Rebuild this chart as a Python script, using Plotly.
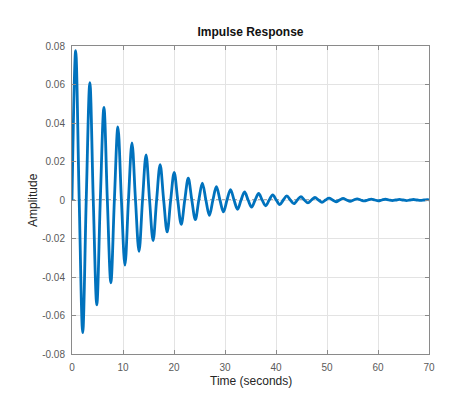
import plotly.graph_objects as go

# Values
peak_t = [0.72, 3.50, 6.26, 9.00, 11.76, 14.52, 17.28, 20.04, 22.80, 25.56, 28.32, 31.08, 33.84,
          36.60, 39.36, 42.12, 44.88, 47.64, 50.40, 53.16, 55.92, 58.68, 61.44, 64.20, 66.96, 69.72]
peak_amp = [0.0776, 0.0610, 0.0481, 0.0380, 0.0297, 0.0234, 0.0184, 0.0144, 0.0113, 0.0088, 0.0069,
            0.0054, 0.0042, 0.0034, 0.0027, 0.0021, 0.0017, 0.0013, 0.0010, 0.0008, 0.0006, 0.0005,
            0.0004, 0.0003, 0.00025, 0.0002]
trough_t = [2.10, 4.86, 7.62, 10.38, 13.14, 15.90, 18.66, 21.42, 24.18, 26.94, 29.70, 32.46, 35.22,
            37.98, 40.74, 43.50, 46.26, 49.02, 51.78, 54.54, 57.30, 60.06, 62.82, 65.58, 68.34]
trough_amp = [-0.0689, -0.0545, -0.0430, -0.0338, -0.0267, -0.0211, -0.0166, -0.0127, -0.0102, -0.0080,
              -0.0062, -0.0048, -0.0037, -0.0030, -0.0024, -0.0019, -0.0015, -0.0012, -0.0009, -0.0007,
              -0.0005, -0.0004, -0.0003, -0.0003, -0.0002]
cross_t = [0.0, 1.41, 2.79, 4.17, 5.55, 6.93, 8.31, 9.69, 11.07, 12.45, 13.83, 15.21, 16.59, 17.97,
           19.35, 20.73, 22.11, 23.49, 24.87, 26.25, 27.63, 29.01, 30.39, 31.77, 33.15, 34.53, 35.91,
           37.29, 38.67, 40.05, 41.43, 42.81, 44.19, 45.57, 46.95, 48.33, 49.71, 51.09, 52.47, 53.85,
           55.23, 56.61, 57.99, 59.37, 60.75, 62.13, 63.51, 64.89, 66.27, 67.65, 69.03]
end_t = [70.0]
end_amp = [0.0001]

x_ticks = [0, 10, 20, 30, 40, 50, 60, 70]
y_ticks = [-0.08, -0.06, -0.04, -0.02, 0, 0.02, 0.04, 0.06, 0.08]
y_ticktext = ["-0.08", "-0.06", "-0.04", "-0.02", "0", "0.02", "0.04", "0.06", "0.08"]

pts = sorted(list(zip(peak_t, peak_amp)) + list(zip(trough_t, trough_amp))
             + [(t, 0.0) for t in cross_t] + list(zip(end_t, end_amp)))
t_all = [p[0] for p in pts]
y_all = [p[1] for p in pts]

FONT = "Liberation Sans, Arial, sans-serif"
AX = "#8a8a8a"

fig = go.Figure()
fig.add_trace(go.Scatter(x=t_all, y=y_all, mode="lines",
                         line=dict(color="#0072BD", width=2.8, shape="spline", smoothing=1.0),
                         showlegend=False))
fig.add_hline(y=0, line=dict(color="#555555", width=1, dash="dot"), layer="below")

axis_common = dict(showgrid=True, gridcolor="#e3e3e3", gridwidth=1, zeroline=False,
                   showline=True, linecolor=AX, linewidth=1, mirror="ticks",
                   ticks="inside", ticklen=4, tickcolor=AX,
                   tickfont=dict(family=FONT, size=10, color="#5a5a5a"))

fig.update_layout(
    width=474, height=398,
    margin=dict(l=72, r=45, t=46, b=44),
    paper_bgcolor="white", plot_bgcolor="white",
    title=dict(text="<b>Impulse Response</b>", x=0.5, xref="paper", xanchor="center",
               y=1 - 32 / 398, yref="container", yanchor="middle",
               font=dict(family=FONT, size=12, color="#111111")),
    xaxis=dict(range=[0, 70], tickvals=x_ticks, ticklabelstandoff=4, **axis_common),
    yaxis=dict(range=[-0.08, 0.08], tickvals=y_ticks, ticktext=y_ticktext,
               ticklabelstandoff=4, **axis_common),
    annotations=[
        dict(text="Time (seconds)", xref="paper", yref="paper", x=0.5, y=-(380.5 - 354) / 308,
             yanchor="middle", xanchor="center", showarrow=False,
             font=dict(family=FONT, size=12, color="#262626")),
        dict(text="Amplitude", xref="paper", yref="paper", x=-(72 - 33) / 357, y=0.5,
             xanchor="center", yanchor="middle", textangle=-90, showarrow=False,
             font=dict(family=FONT, size=12, color="#262626")),
    ],
)

fig.write_html("out.html")
